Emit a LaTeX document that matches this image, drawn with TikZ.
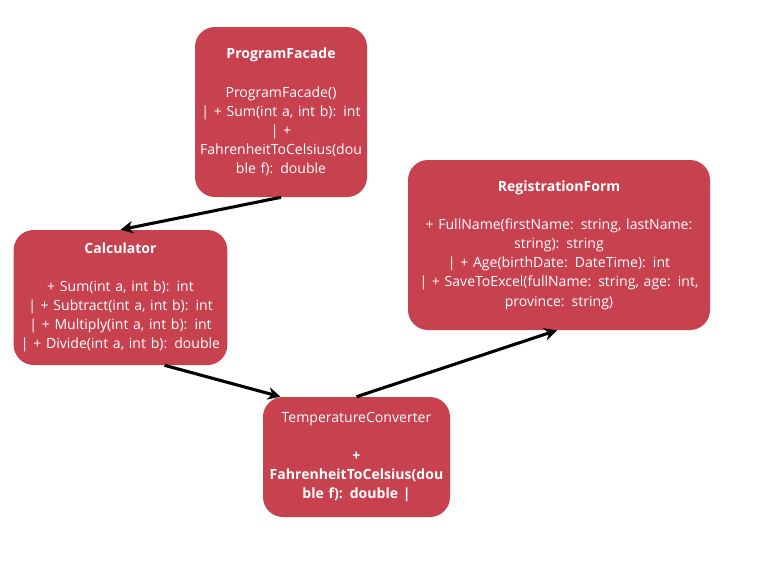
\documentclass[tikz,border=0pt]{standalone}
\usepackage{fontspec}
\setmainfont{Open Sans}
\usetikzlibrary{positioning,arrows.meta}
\definecolor{boxred}{HTML}{C8414F}
\begin{document}
\begin{tikzpicture}[
  box/.style={rectangle, rounded corners=0.5cm, fill=boxred, text=white, align=center, font=\fontsize{10}{13.6}\selectfont, inner sep=2pt},
  arrow/.style={-{Stealth[length=9pt,width=9pt]}, line width=2.2pt}
]
\useasboundingbox (0,0) rectangle (19.2,-14.4);

% Facade on top
\node[box, minimum width=4.3cm, minimum height=4.25cm, text width=4.1cm] (facade) at (7.025,-2.8)
  {\textbf{ProgramFacade}\\[13.6pt] ProgramFacade()\\| + Sum(int a, int b): int\\| +\\FahrenheitToCelsius(dou\\ble f): double};

% Registration form
\node[box, minimum width=7.55cm, minimum height=4.25cm, text width=7.2cm] (regform) at (13.975,-6.125)
  {\textbf{RegistrationForm}\\[13.6pt] + FullName(firstName: string, lastName:\\string): string\\| + Age(birthDate: DateTime): int\\| + SaveToExcel(fullName: string, age: int,\\province: string)};

% Calculator
\node[box, minimum width=5.325cm, minimum height=3.375cm, text width=5.2cm] (calc) at (3.0125,-7.4375)
  {\textbf{Calculator}\\[13.6pt] + Sum(int a, int b): int\\| + Subtract(int a, int b): int\\| + Multiply(int a, int b): int\\| + Divide(int a, int b): double};

% Temperature converter
\node[box, minimum width=4.675cm, minimum height=3cm, text width=4.5cm] (temp) at (8.9125,-11.425)
  {TemperatureConverter\\[13.6pt] \textbf{+}\\\textbf{FahrenheitToCelsius(dou}\\\textbf{ble f): double |}};

% Arrows
\draw[arrow] (facade.south) -- (calc.north);
\draw[arrow] ([xshift=1.1cm]calc.south) -- ([xshift=-1.9cm]temp.north);
\draw[arrow] (temp.north) -- ([xshift=-0.05cm]regform.south);

\end{tikzpicture}
\end{document}
